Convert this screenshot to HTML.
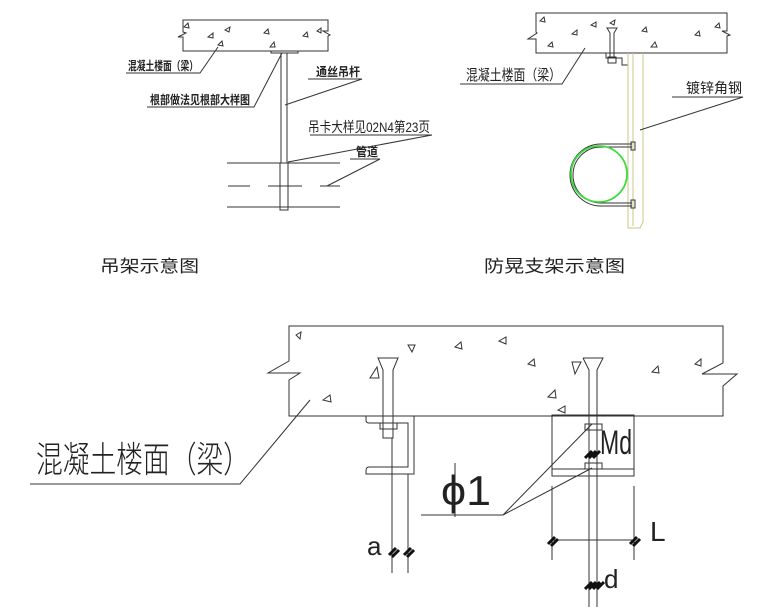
<!DOCTYPE html>
<html><head><meta charset="utf-8"><style>
html,body{margin:0;padding:0;background:#fff;}
svg{display:block;}
text{font-family:"Liberation Sans","Noto Sans CJK SC",sans-serif;fill:#222;}
</style></head><body>
<svg width="760" height="613" viewBox="0 0 760 613" xmlns="http://www.w3.org/2000/svg">
<g fill="none" stroke="#333" stroke-width="1">
<!-- ===== Top-left diagram ===== -->
<path d="M183,20 H328 V31 L323,31 L330,35 L328,36 V51 H183 V37 L178,37 L186,33 L183,32 Z"/>
<path d="M184,27 l4,-4 l1,5 z M208,37 l5,-4 l0,5 z M218,45 l4,-4 l1,5 z M225,30 l5,-3 l-1,5 z M264,33 l4,-4 l1,5 z M270,47 l4,-5 l1,5 z M303,36 l4,-4 l1,5 z M317,31 l4,-3 l0,5 z"/>
<rect x="271" y="51" width="27" height="2"/>
<line x1="281" y1="53" x2="281" y2="163"/><line x1="287" y1="53" x2="287" y2="163"/>
<rect x="280" y="163" width="8" height="47"/>
<line x1="227" y1="163" x2="340" y2="163"/>
<path d="M228,186 H250 M268,186 H302 M320,186 H340"/>
<line x1="227" y1="207" x2="340" y2="207"/>
<path d="M126,73 H200 L218,47"/>
<path d="M147,107 H254 L282,53"/>
<path d="M308,79 H362 L285,105"/>
<path d="M310,135 H432 L288,162"/>
<path d="M350,159 H380 L327,186"/>
<!-- ===== Top-right diagram ===== -->
<path d="M536,13 H727 V31 L722,31 L730,35 L727,36 V53 H536 V39 L528,39 L537,33 L536,32 Z"/>
<path d="M540,21 l4,-4 l1,5 z M572,34 l5,-4 l0,5 z M548,46 l4,-4 l1,5 z M591,25 l5,-3 l0,5 z M642,31 l4,-4 l1,5 z M651,47 l4,-5 l2,5 z M695,35 l4,-4 l1,5 z M715,27 l4,-4 l1,5 z M610,23 l5,-3 l-1,5 z"/>
<path d="M607,28 H617 L614,33 V57 H610 V33 Z"/>
<rect x="608" y="57" width="8" height="6"/>
<path d="M606,53 V58 H622 V65 H628"/>
<path d="M628,53 V228 H640 L643,222 V53" stroke="#c8c888"/>
<line x1="633" y1="53" x2="633" y2="226" stroke="#c8c888"/>
<path d="M632,144 H601 A31,31 0 0 0 601,206 H632"/>
<path d="M632,147 H601 A28,28 0 0 0 601,203 H632"/>
<rect x="631" y="142" width="4" height="8"/><rect x="631" y="200" width="4" height="8"/>
<circle cx="599" cy="174" r="28" stroke="#3ddc3d" stroke-width="1.8"/>
<path d="M460,84 H562 L585,48"/>
<path d="M672,97 H743 L640,130"/>
<!-- ===== Bottom diagram ===== -->
<path d="M289,326 H723 V363 L702,374 H737 L723,386 V416 H289 V380 L300,373 H268 L289,361 Z"/>
<path d="M296,335 l5,-3 l-1,7 z M323,400 l7,-5 l1,7 z M412,352 l-4,-7 l7,0 z M455,347 l6,-5 l1,7 z M506,344 l-7,-3 l7,-4 z M528,364 l6,-5 l1,7 z M575,374 l-3,-12 l9,0 z M548,397 l7,-7 l1,8 z M558,410 l7,-4 l0,7 z M652,372 l6,-6 l1,7 z M695,364 l6,-5 l0,7 z M370,378 l7,-11 l2,11 z M300,396 l0,0"/>
<path d="M378,358 H398 L393,370 V438 H383 V370 Z"/>
<rect x="380" y="423" width="17" height="6"/>
<path d="M366,416 V420 Q366,423 369,423 H408 V467 H369 Q366,467 366,471 V474 H414 V416"/>
<line x1="392" y1="438" x2="392" y2="573"/><line x1="408" y1="474" x2="408" y2="573"/>
<path d="M583,358 H603 L597,370 V607 M583,358 L589,370 V607"/>
<rect x="552" y="415" width="82" height="61"/>
<line x1="552" y1="469" x2="634" y2="469"/>
<rect x="585" y="424" width="17" height="6"/>
<rect x="585" y="463" width="17" height="6"/>
<path d="M552,486 V560 M634,486 V560 M552,540 H634"/>
<path d="M421,515 H503 L592,424 M503,515 L592,468"/>
<line x1="455" y1="463" x2="455" y2="517"/>
<path d="M30,484 H240 L310,400"/>
</g>
<!-- tick marks -->
<g stroke="#111" stroke-width="3">
<path d="M389,555 l7,-7 M392,557 l7,-7 M404,555 l7,-7 M407,557 l7,-7"/>
<path d="M548,544 l7,-7 M551,546 l7,-7 M630,544 l7,-7 M633,546 l7,-7"/>
<path d="M585,589 l7,-7 M589,589 l7,-7 M593,589 l7,-7 M597,589 l7,-7"/>
<path d="M585,458 l7,-7 M589,458 l7,-7 M593,458 l7,-7"/>
</g>
<!-- texts -->
<g font-size="12" font-weight="bold">
<text x="128" y="70" textLength="70" lengthAdjust="spacingAndGlyphs">混凝土楼面（梁）</text>
<text x="150" y="104" textLength="100" lengthAdjust="spacingAndGlyphs">根部做法见根部大样图</text>
<text x="316" y="76" textLength="44" lengthAdjust="spacingAndGlyphs">通丝吊杆</text>
<text x="308" y="132" textLength="122" lengthAdjust="spacingAndGlyphs" font-weight="normal" font-size="14">吊卡大样见02N4第23页</text>
<text x="356" y="156" textLength="22" lengthAdjust="spacingAndGlyphs">管道</text>
</g>
<text x="466" y="80" font-size="15" textLength="95" lengthAdjust="spacingAndGlyphs">混凝土楼面（梁）</text>
<text x="686" y="93" font-size="14" textLength="56" lengthAdjust="spacingAndGlyphs">镀锌角钢</text>
<text x="100" y="272" font-size="17" textLength="99" lengthAdjust="spacingAndGlyphs">吊架示意图</text>
<text x="484" y="272" font-size="17" textLength="141" lengthAdjust="spacingAndGlyphs">防晃支架示意图</text>
<text x="36" y="472" font-size="36" font-weight="300" textLength="214" lengthAdjust="spacingAndGlyphs" fill="#444">混凝土楼面（梁）</text>
<text x="441" y="505" font-size="42" textLength="50" lengthAdjust="spacingAndGlyphs" fill="#444">ϕ1</text>
<text x="600" y="454" font-size="34" textLength="32" lengthAdjust="spacingAndGlyphs" fill="#444">Md</text>
<text x="367" y="555" font-size="26" fill="#444">a</text>
<text x="650" y="541" font-size="28" fill="#444">L</text>
<text x="604" y="588" font-size="26" fill="#444">d</text>
</svg>
</body></html>
